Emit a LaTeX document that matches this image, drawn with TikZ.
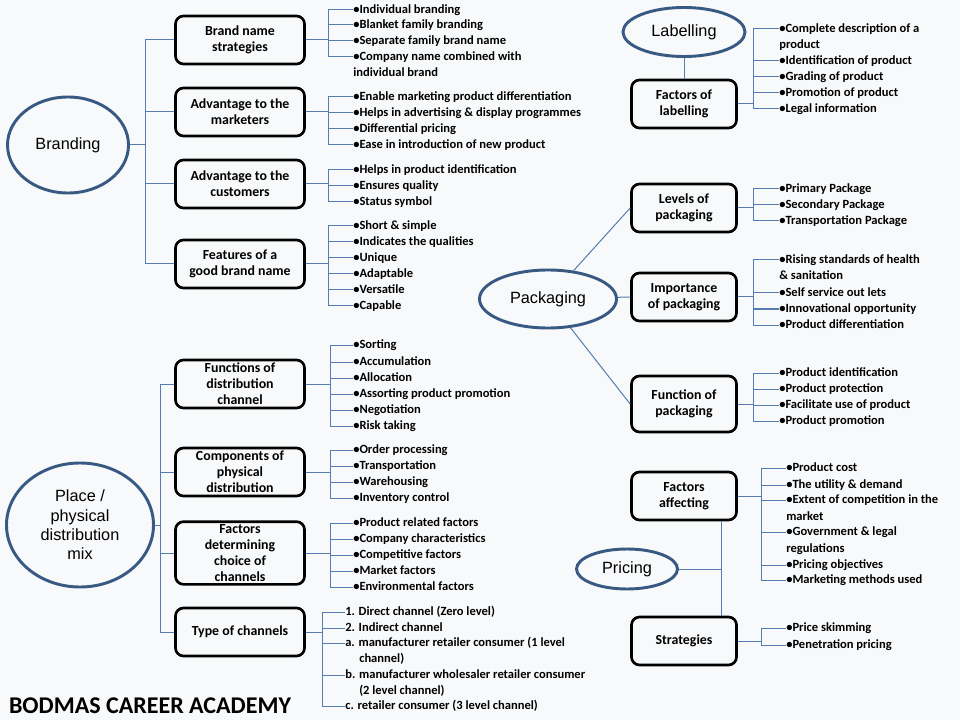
\documentclass[tikz,border=0pt]{standalone}
\usepackage{fontspec}
\setmainfont{Carlito}
\newfontfamily\hubfont{Liberation Sans}
\usetikzlibrary{shapes.geometric}

\definecolor{bgcol}{RGB}{248,249,250}
\definecolor{linkcol}{RGB}{84,124,176}
\definecolor{ringcol}{RGB}{56,90,130}

\tikzset{
  hub/.style={ellipse, draw=ringcol, line width=2.2pt, inner sep=0pt, align=center,
    font=\hubfont\fontsize{12.2}{14.5}\selectfont},
  topic/.style={draw=black, line width=2pt, rounded corners=6pt, minimum width=96.75pt,
    minimum height=36pt, inner sep=1pt, align=center, font=\bfseries\fontsize{10.4}{12}\selectfont},
  item/.style={anchor=west, inner sep=0pt, text height=6.5pt, text depth=1.5pt,
    font=\bfseries\fontsize{9.4}{11}\selectfont},
  link/.style={linkcol, line width=0.75pt},
}

\begin{document}
\begin{tikzpicture}[x=0.75pt,y=-0.75pt]
  % Background and page size
  \fill[bgcol] (0,0) rectangle (960,720);
  \useasboundingbox (0,0) rectangle (960,720);

  % Trunk and bracket positions
  \coordinate (bj) at (145,0);
  \coordinate (pj) at (160,0);
  \coordinate (bl) at (328,0);
  \coordinate (pl) at (330,0);
  \coordinate (tl) at (322,0);
  \coordinate (rl) at (753,0);
  \coordinate (ql) at (761,0);
  \coordinate (sj) at (721,0);

  % Branding
  \node[hub, minimum width=90.75pt, minimum height=72pt] (brand) at (68,145) {Branding};
  \node[topic] (bns) at (240,40) {Brand name\\strategies};
  \node[topic] (advm) at (240,112) {Advantage to the\\marketers};
  \node[topic] (advc) at (240,184) {Advantage to the\\customers};
  \node[topic] (feat) at (240,264) {Features of a\\good brand name};
  \draw[link] (brand) -- (brand -| bj);
  \draw[link] (bns.west -| bj) -- (feat.west -| bj);
  \foreach \b in {bns,advm,advc,feat}
    \draw[link] (\b.west -| bj) -- (\b.west);

  % Branding lists
  \foreach \n/\y/\t in {1/10/Individual branding, 2/25/Blanket family branding,
      3/41/Separate family brand name, 4/57/Company name combined with}
    \node[item] (bns-\n) at (353,\y) {•\t};
  \node[item] (bns-5) at (353,73) {individual brand};
  \foreach \n/\y/\t in {1/97/Enable marketing product differentiation,
      2/113/Helps in advertising \& display programmes, 3/129/Differential pricing,
      4/145/Ease in introduction of new product}
    \node[item] (advm-\n) at (353,\y) {•\t};
  \foreach \n/\y/\t in {1/170/Helps in product identification, 2/186/Ensures quality,
      3/202/Status symbol}
    \node[item] (advc-\n) at (353,\y) {•\t};
  \foreach \n/\y/\t in {1/226/Short \& simple, 2/242/Indicates the qualities, 3/258/Unique,
      4/274/Adaptable, 5/290/Versatile, 6/306/Capable}
    \node[item] (feat-\n) at (353,\y) {•\t};

  \foreach \b/\k in {bns/4,advm/4,advc/3,feat/6} {
    \draw[link] (\b.east) -- (\b.east -| bl);
    \draw[link] (\b-1.west -| bl) -- (\b-\k.west -| bl);
    \foreach \n in {1,...,\k}
      \draw[link] (\b-\n.west -| bl) -- (\b-\n.west);
  }

  % Place / physical distribution mix
  \node[hub, minimum width=110.25pt, minimum height=93pt] (place) at (80,525)
    {Place /\\physical\\distribution\\mix};
  \node[topic] (func) at (240,384) {Functions of\\distribution\\channel};
  \node[topic] (comp) at (240,472) {Components of\\physical\\distribution};
  \node[topic, minimum height=47pt] (fdet) at (240,553) {Factors\\determining\\choice of\\channels};
  \node[topic] (types) at (240,632) {Type of channels};
  \draw[link] (place) -- (place -| pj);
  \draw[link] (func.west -| pj) -- (types.west -| pj);
  \foreach \b in {func,comp,fdet,types}
    \draw[link] (\b.west -| pj) -- (\b.west);

  % Distribution lists
  \foreach \n/\y/\t in {1/345/Sorting, 2/362/Accumulation, 3/378/Allocation,
      4/394/Assorting product promotion, 5/410/Negotiation, 6/426/Risk taking}
    \node[item] (func-\n) at (353,\y) {•\t};
  \foreach \n/\y/\t in {1/450/Order processing, 2/466/Transportation, 3/482/Warehousing,
      4/498/Inventory control}
    \node[item] (comp-\n) at (353,\y) {•\t};
  \foreach \n/\y/\t in {1/523/Product related factors, 2/539/Company characteristics,
      3/555/Competitive factors, 4/571/Market factors, 5/587/Environmental factors}
    \node[item] (fdet-\n) at (353,\y) {•\t};
  \foreach \b/\k in {func/6,comp/4,fdet/5} {
    \draw[link] (\b.east) -- (\b.east -| pl);
    \draw[link] (\b-1.west -| pl) -- (\b-\k.west -| pl);
    \foreach \n in {1,...,\k}
      \draw[link] (\b-\n.west -| pl) -- (\b-\n.west);
  }

  % Type of channels list
  \foreach \n/\y/\t in {1/612/1. Direct channel (Zero level), 2/628/2. Indirect channel,
      3/643/a. manufacturer retailer consumer (1 level,
      4/675/b. manufacturer wholesaler retailer consumer,
      5/706/c. retailer consumer (3 level channel)}
    \node[item] (types-\n) at (345,\y) {\t};
  \node[item] (types-6) at (359,659) {channel)};
  \node[item] (types-7) at (359,691) {(2 level channel)};
  \draw[link] (types.east) -- (types.east -| tl);
  \draw[link] (types-1.west -| tl) -- (types-5.west -| tl);
  \foreach \n in {1,...,5}
    \draw[link] (types-\n.west -| tl) -- (types-\n.west);

  % Labelling
  \node[hub, minimum width=91.5pt, minimum height=36.75pt] (label) at (684,32) {Labelling};
  \node[topic, minimum width=78.75pt] (lfac) at (684,104) {Factors of\\labelling};
  \draw[link] (label) -- (lfac);
  \foreach \n/\y/\t in {1/29/Complete description of a, 3/61/Identification of product,
      4/77/Grading of product, 5/93/Promotion of product, 6/109/Legal information}
    \node[item] (lfac-\n) at (779,\y) {•\t};
  \node[item] (lfac-2) at (779,45) {product};

  % Packaging
  \node[hub, minimum width=102.75pt, minimum height=43.5pt] (pack) at (548,299) {Packaging};
  \node[topic, minimum width=78.75pt] (levels) at (684,208) {Levels of\\packaging};
  \node[topic, minimum width=78.75pt] (imp) at (684,297) {Importance\\of packaging};
  \node[topic, minimum width=78.75pt, minimum height=42pt] (funcp) at (684,404) {Function of\\packaging};
  \foreach \b in {levels,imp,funcp}
    \draw[link] (pack) -- (\b.west);
  \foreach \n/\y/\t in {1/189/Primary Package, 2/205/Secondary Package,
      3/221/Transportation Package}
    \node[item] (levels-\n) at (779,\y) {•\t};
  \foreach \n/\y/\t in {1/260/Rising standards of health, 3/293/Self service out lets,
      4/309/Innovational opportunity, 5/325/Product differentiation}
    \node[item] (imp-\n) at (779,\y) {•\t};
  \node[item] (imp-2) at (779,276) {\& sanitation};
  \foreach \n/\y/\t in {1/373/Product identification, 2/389/Product protection,
      3/405/Facilitate use of product, 4/421/Product promotion}
    \node[item] (funcp-\n) at (779,\y) {•\t};

  % Labelling and packaging brackets
  \foreach \b/\k/\ticks in {lfac/6/{1,3,4,5,6}, levels/3/{1,2,3}, imp/5/{1,3,4,5},
      funcp/4/{1,2,3,4}} {
    \draw[link] (\b.east) -- (\b.east -| rl);
    \draw[link] (\b-1.west -| rl) -- (\b-\k.west -| rl);
    \foreach \n in \ticks
      \draw[link] (\b-\n.west -| rl) -- (\b-\n.west);
  }

  % Pricing
  \node[hub, minimum width=75.75pt, minimum height=30pt] (price) at (627,569) {Pricing};
  \node[topic, minimum width=78.75pt] (factors) at (684,496) {Factors\\affecting};
  \node[topic, minimum width=78.75pt] (strat) at (684,641) {Strategies};
  \draw[link] (factors.south -| sj) -- (strat.north -| sj);
  \draw[link] (price) -- (price -| sj);
  \foreach \n/\y/\t in {1/468/Product cost, 2/485/The utility \& demand,
      3/500/Extent of competition in the, 5/532/Government \& legal,
      7/565/Pricing objectives, 8/580/Marketing methods used}
    \node[item] (factors-\n) at (786,\y) {•\t};
  \node[item] (factors-4) at (786,517) {market};
  \node[item] (factors-6) at (786,549) {regulations};
  \foreach \n/\y/\t in {1/628/Price skimming, 2/645/Penetration pricing}
    \node[item] (strat-\n) at (786,\y) {•\t};
  \foreach \b/\k/\ticks in {factors/8/{1,2,3,5,7,8}, strat/2/{1,2}} {
    \draw[link] (\b.east) -- (\b.east -| ql);
    \draw[link] (\b-1.west -| ql) -- (\b-\k.west -| ql);
    \foreach \n in \ticks
      \draw[link] (\b-\n.west -| ql) -- (\b-\n.west);
  }

  % Title
  \node[font=\bfseries\fontsize{18}{20}\selectfont, inner sep=0pt] (academy) at (150,706)
    {BODMAS CAREER ACADEMY};
\end{tikzpicture}
\end{document}
